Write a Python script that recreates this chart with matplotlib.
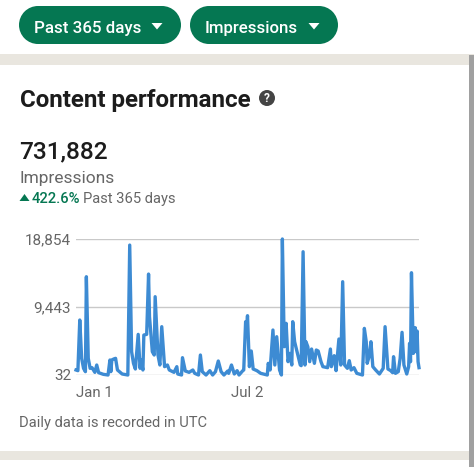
import matplotlib
matplotlib.use("Agg")
import matplotlib.pyplot as plt
from matplotlib.patches import Rectangle, Circle, Polygon

# values (day of the window, impressions)
days = [0, 2, 4, 6, 8, 10, 11, 13, 15, 17, 20, 22, 24, 29, 34, 36, 37, 38, 40, 42, 44, 49, 55, 57, 59, 61, 63, 66, 68, 69,
        71, 72, 75, 77, 78, 81, 83, 84, 87, 89, 91, 94, 97, 99, 104, 107, 108, 112, 113, 116, 120, 124, 126, 130, 132, 134,
        138, 142, 145, 148, 151, 154, 157, 161, 162, 165, 168, 171, 173, 177, 178, 180, 181, 182, 184, 186, 188, 192, 196,
        203, 204, 206, 209, 211, 213, 216, 218, 219, 221, 223, 225, 227, 229, 230, 232, 235, 238, 239, 241, 243, 244, 246,
        248, 250, 253, 255, 257, 260, 262, 267, 270, 271, 274, 276, 279, 281, 283, 285, 288, 290, 292, 295, 298, 304, 306,
        308, 309, 311, 313, 315, 318, 322, 326, 328, 331, 334, 336, 337, 339, 342, 344, 346, 348, 351, 353, 354, 355, 356,
        358, 360, 361, 362, 363, 364]
impressions = [724, 631, 7640, 2337, 954, 493, 13632, 2337, 954, 1046, 401, 1415, 355, 124, 32, 2107, 493, 2107, 2245, 2337,
               724, 170, 32, 18011, 3259, 1646, 862, 5656, 954, 2107, 724, 5564, 5656, 14000, 8100, 3259, 2798, 10866, 2798,
               1415, 6716, 1185, 1415, 724, 401, 1185, 170, 32, 2430, 585, 401, 724, 262, 32, 2798, 493, 32, 631, 32, 493,
               1968, 493, 32, 585, 262, 1415, 170, 631, 32, 631, 724, 7408, 6486, 8238, 1185, 3351, 862, 631, 262, 32, 1646,
               724, 6255, 1415, 5334, 724, 32, 18854, 3950, 7178, 1876, 3028, 1415, 7408, 4642, 3028, 1415, 1323, 17089, 1415,
               4642, 3950, 1876, 3628, 1646, 3490, 3351, 1876, 1185, 1046, 3628, 1185, 2706, 631, 5011, 1415, 12940, 1415, 954,
               2015, 724, 1046, 262, 32, 6486, 4642, 1646, 2568, 4642, 1185, 724, 170, 954, 6716, 862, 631, 355, 2568, 262,
               493, 2337, 5933, 1415, 170, 1185, 4412, 1876, 14185, 3028, 6578, 3259, 6117, 1876, 1046]
y_ticks = [32, 9443, 18854]
y_labels = ["32", "9,443", "18,854"]
x_ticks = [20, 182]
x_labels = ["Jan 1", "Jul 2"]

plt.rcParams['font.family'] = ['Roboto', 'DejaVu Sans']
W, H = 474, 467
GREEN = "#057752"
BAND = "#e9e6df"
GREY = "#666666"

fig = plt.figure(figsize=(W / 100, H / 100), dpi=100, facecolor="white")

# page furniture in pixel coordinates
bg = fig.add_axes([0, 0, 1, 1])
bg.set_xlim(0, W)
bg.set_ylim(H, 0)
bg.axis("off")
bg.add_patch(Rectangle((0, 54), W, 10.5, color=BAND, lw=0))
bg.add_patch(Rectangle((0, 450.5), W, 9, color=BAND, lw=0))
# grey strip down the right edge of the screenshot
bg.add_patch(Rectangle((469, 55), 5, H - 55, color="#a0a0a0", lw=0))
for x0, x1 in [(19, 181), (190, 338)]:
    bg.add_patch(Rectangle((x0 + 19, 6), x1 - x0 - 38, 38, fc=GREEN, ec="none"))
    bg.add_patch(Circle((x0 + 19, 25), 19, fc=GREEN, ec="none"))
    bg.add_patch(Circle((x1 - 19, 25), 19, fc=GREEN, ec="none"))
bg.text(34, 28, "Past 365 days", color="white", fontsize=12.2, fontweight="medium", va="center")
bg.text(205, 28, "Impressions", color="white", fontsize=12.2, fontweight="medium", va="center")
for x in [157, 314]:
    bg.add_patch(Polygon([(x - 5.5, 23), (x + 5.5, 23), (x, 29.5)], fc="white", ec="none"))

bg.text(20, 100, "Content performance", color="#1c1c1c", fontsize=17.4, fontweight="bold", va="center")
bg.add_patch(Circle((267, 98), 8, fc="#444444", ec="none"))
bg.text(267, 98.5, "?", color="white", fontsize=8.5, fontweight="bold", ha="center", va="center")
bg.text(19.5, 152, "731,882", color="#1c1c1c", fontsize=17.6, fontweight="medium", va="center")
bg.text(19.5, 179, "Impressions", color=GREY, fontsize=12.5, va="center")
bg.add_patch(Polygon([(19.5, 201), (29.5, 201), (24.5, 194)], fc=GREEN, ec="none"))
bg.text(32, 199, "422.6%", color=GREEN, fontsize=10.6, fontweight="medium", va="center")
bg.text(83, 199, "Past 365 days", color=GREY, fontsize=10.6, va="center")
bg.text(19.5, 423, "Daily data is recorded in UTC", color=GREY, fontsize=10.6, va="center")

# the chart itself
ax = fig.add_axes([76 / W, 1 - 375 / H, 343 / W, 136 / H])
ax.patch.set_alpha(0)
ax.plot(days, impressions, color="#3d8bd3", lw=2.4, solid_joinstyle="round", clip_on=False, zorder=3)
ax.set_xlim(0, 364)
ax.set_ylim(32, 18854)
ax.set_yticks(y_ticks, y_labels)
ax.set_xticks(x_ticks, x_labels)
ax.grid(axis="y", color="#c9c9c9", lw=1)
ax.grid(axis="x", visible=False)
ax.set_axisbelow(True)
for s in ax.spines.values():
    s.set_visible(False)
ax.tick_params(axis="y", length=0, pad=3.5, labelsize=11, labelcolor=GREY)
ax.tick_params(axis="x", length=0, pad=8, labelsize=10.8, labelcolor=GREY)

fig.savefig("out.png", dpi=100)
